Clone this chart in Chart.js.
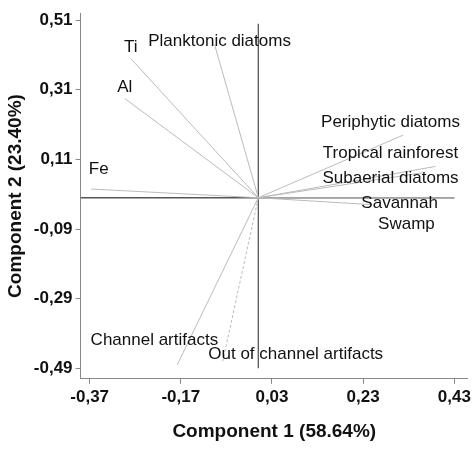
<!DOCTYPE html>
<html><head><meta charset="utf-8">
<script src="https://cdn.jsdelivr.net/npm/chart.js@4.4.0/dist/chart.umd.min.js"></script>
<style>html,body{margin:0;background:#fff}#wrap{width:474px;height:449px}</style>
</head><body><div id="wrap"><canvas id="c"></canvas></div>
<script>
// --- Data ---
const names = ["Ti", "Al", "Fe", "Planktonic diatoms", "Periphytic diatoms", "Tropical rainforest",
  "Subaerial diatoms", "Savannah", "Swamp", "Channel artifacts", "Out of channel artifacts"];
const loadX = [-0.28, -0.293, -0.367, -0.096, 0.318, 0.389, 0.367, 0.43, 0.25, -0.178, -0.078];
const loadY = [0.40, 0.285, 0.025, 0.44, 0.18, 0.09, 0.073, 0.0, -0.02, -0.48, -0.47];
// label anchors (text centre) in data units
const labelX = [-0.28, -0.293, -0.35, -0.085, 0.29, 0.29, 0.29, 0.31, 0.325, -0.228, 0.082];
const labelY = [0.433, 0.318, 0.082, 0.448, 0.217, 0.127, 0.057, -0.015, -0.077, -0.41, -0.45];
const xTicks = [-0.37, -0.17, 0.03, 0.23, 0.43];
const yTicks = [0.51, 0.31, 0.11, -0.09, -0.29, -0.49];

const fmt = (v) => v.toFixed(2).replace(".", ",");
const FONT = "'Liberation Sans', Arial";

const datasets = names.map((n, i) => ({
  data: [{ x: 0, y: 0 }, { x: loadX[i], y: loadY[i] }],
  borderColor: "#bbb", borderWidth: 1, pointRadius: 0,
  borderDash: n === "Out of channel artifacts" ? [3, 2] : [],
}));
// zero axes
datasets.push({ data: [{ x: -0.39, y: 0 }, { x: 0.43, y: 0 }], borderColor: "#555", borderWidth: 1.3, pointRadius: 0 });
datasets.push({ data: [{ x: 0, y: 0.50 }, { x: 0, y: -0.49 }], borderColor: "#555", borderWidth: 1.3, pointRadius: 0 });

const labelPlugin = {
  id: "labels",
  afterDatasetsDraw(chart) {
    const { ctx, scales } = chart;
    ctx.save();
    ctx.font = "17px " + FONT;
    ctx.fillStyle = "#111";
    ctx.textAlign = "center";
    ctx.textBaseline = "middle";
    names.forEach((n, i) => {
      ctx.fillText(n, scales.x.getPixelForValue(labelX[i]), scales.y.getPixelForValue(labelY[i]));
    });
    ctx.restore();
  },
};

new Chart(document.getElementById("c"), {
  type: "scatter",
  data: { datasets },
  plugins: [labelPlugin],
  options: {
    animation: false, responsive: true, maintainAspectRatio: false,
    showLine: true,
    layout: { padding: { top: 0, right: 4, left: 0, bottom: 2 } },
    plugins: { legend: { display: false }, tooltip: { enabled: false } },
    scales: {
      x: {
        type: "linear", min: -0.39, max: 0.46,
        afterBuildTicks: (s) => { s.ticks = xTicks.map((v) => ({ value: v })); },
        ticks: { callback: fmt, color: "#111", font: { family: FONT, size: 17, weight: "bold" } },
        grid: { drawOnChartArea: false, tickLength: 5, color: "#888" },
        border: { color: "#888" },
        title: { display: true, text: "Component 1 (58.64%)", color: "#111", font: { family: FONT, size: 19, weight: "bold" }, padding: { top: 10 } },
      },
      y: {
        type: "linear", min: -0.52, max: 0.53,
        afterBuildTicks: (s) => { s.ticks = yTicks.map((v) => ({ value: v })); },
        ticks: { callback: fmt, color: "#111", font: { family: FONT, size: 17, weight: "bold" } },
        grid: { drawOnChartArea: false, tickLength: 5, color: "#888" },
        border: { color: "#888" },
        title: { display: true, text: "Component 2 (23.40%)", color: "#111", font: { family: FONT, size: 19, weight: "bold" } },
      },
    },
  },
});
</script></body></html>
